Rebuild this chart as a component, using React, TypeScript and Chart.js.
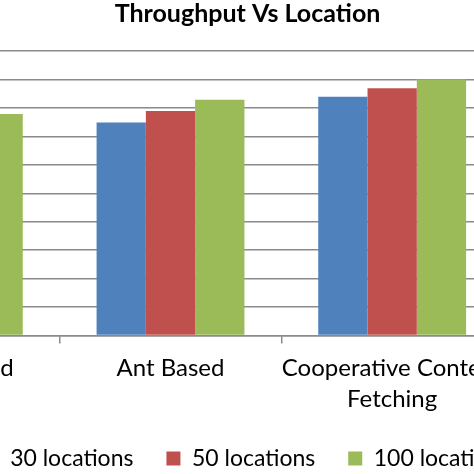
import React, { useEffect, useRef } from 'react';
import { Chart, registerables } from 'chart.js';

Chart.register(...registerables);

const categories: (string | string[])[] = ['Flood Based', 'Ant Based', ['Cooperative Content', 'Fetching']];
const loc30 = [7.2, 7.49, 8.39];
const loc50 = [7.5, 7.89, 8.69];
const loc100 = [7.79, 8.29, 9.0];
const seriesNames = ['30 locations', '50 locations', '100 locations'];
const yTicks = [0, 1, 2, 3, 4, 5, 6, 7, 8, 9, 10];

const FONT = 'Lato, "Open Sans", sans-serif';
const GRID = '#8a8a8a';

const App: React.FC = () => {
    const chartRef = useRef<HTMLCanvasElement>(null);
    const chartInstance = useRef<Chart | null>(null);

    useEffect(() => {
        if (!chartRef.current) return;
        if (chartInstance.current) chartInstance.current.destroy();

        chartInstance.current = new Chart(chartRef.current, {
            type: 'bar',
            data: {
                labels: categories,
                datasets: [
                    { label: seriesNames[0], data: loc30, backgroundColor: '#4f81bd' },
                    { label: seriesNames[1], data: loc50, backgroundColor: '#c0504d' },
                    { label: seriesNames[2], data: loc100, backgroundColor: '#9bbb59' },
                ],
            },
            options: {
                animation: false,
                responsive: true,
                maintainAspectRatio: false,
                datasets: { bar: { categoryPercentage: 0.667, barPercentage: 1.0 } },
                layout: { padding: 0 },
                plugins: {
                    title: {
                        display: true,
                        text: 'Throughput Vs Location',
                        color: '#000',
                        font: { family: FONT, size: 25, weight: 'bold', lineHeight: 1.1 },
                        padding: { top: 0, bottom: 23.5 },
                    },
                    legend: {
                        position: 'bottom',
                        labels: {
                            color: '#000',
                            font: { family: FONT, size: 23 },
                            boxWidth: 14,
                            boxHeight: 14,
                            padding: 33,
                        },
                    },
                    tooltip: { enabled: false },
                },
                scales: {
                    x: {
                        grid: {
                            offset: true,
                            drawOnChartArea: false,
                            drawTicks: true,
                            tickLength: 8,
                            color: GRID,
                            lineWidth: 1.5,
                        },
                        border: { color: GRID, width: 1.5 },
                        ticks: {
                            color: '#000',
                            font: { family: FONT, size: 24, lineHeight: 1.3 },
                            padding: 9,
                            maxRotation: 0,
                            autoSkip: false,
                        },
                        // trim the gap between the labels and the legend
                        afterFit: (s: any) => { s.height -= 10; },
                    },
                    y: {
                        min: yTicks[0],
                        max: yTicks[yTicks.length - 1],
                        ticks: { display: false, stepSize: 1 },
                        grid: { color: GRID, lineWidth: 1.5, drawTicks: false },
                        border: { display: false },
                    },
                    // empty spacer on the right so title and legend sit where the crop shows them
                    y2: {
                        position: 'right',
                        ticks: { display: false },
                        grid: { display: false, drawTicks: false },
                        border: { display: false },
                        afterFit: (s: any) => { s.width = 154; },
                    },
                },
            },
        });

        return () => {
            if (chartInstance.current) {
                chartInstance.current.destroy();
                chartInstance.current = null;
            }
        };
    }, []);

    return (
        <div style={{ position: 'fixed', left: 0, top: 0, width: 474, height: 474, overflow: 'hidden', background: '#fff' }}>
            <div style={{ position: 'absolute', left: -162.4, top: 0, width: 819, height: 480 }}>
                <canvas ref={chartRef} />
            </div>
        </div>
    );
};

export default App;
